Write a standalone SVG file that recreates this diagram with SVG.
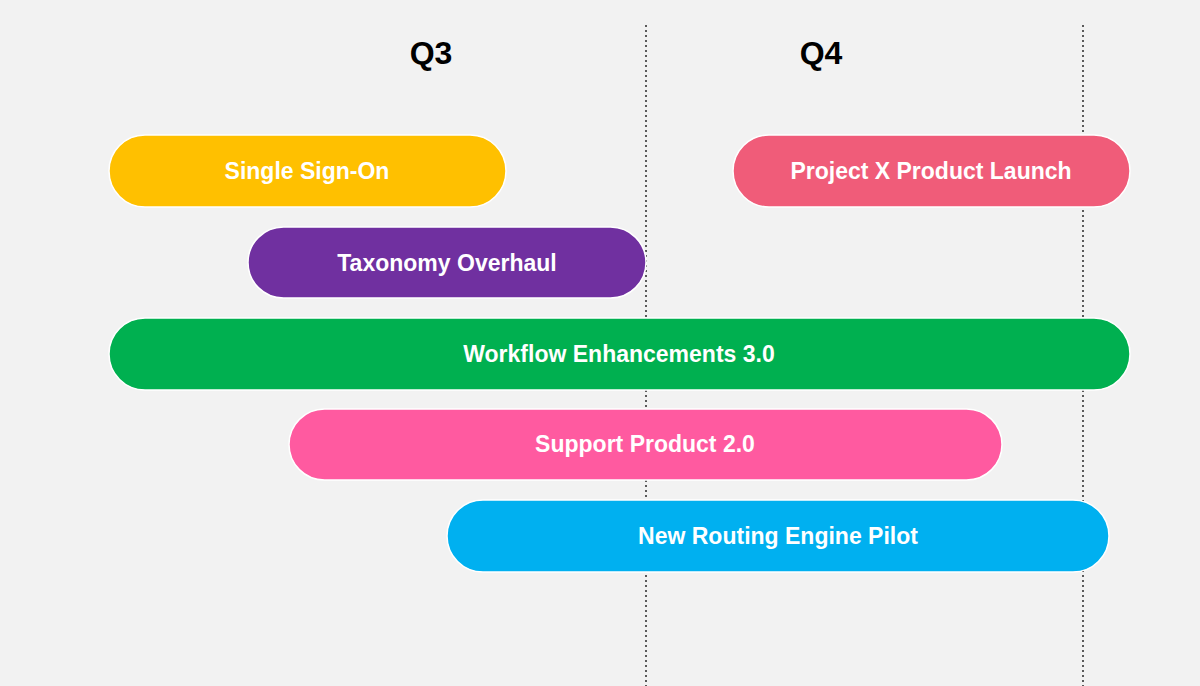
<svg xmlns="http://www.w3.org/2000/svg" width="1200" height="686" viewBox="0 0 1200 686">
<style>
.pill{stroke:#ffffff;stroke-width:1.5}
.lbl{font-family:"Liberation Sans",Arial,sans-serif;font-weight:bold;font-size:23px;fill:#ffffff;text-anchor:middle;dominant-baseline:central}
.q{font-family:"Liberation Sans",Arial,sans-serif;font-weight:bold;font-size:32px;fill:#000000;text-anchor:middle}
.div{stroke:#5a5a5a;stroke-width:2;stroke-dasharray:2 3;fill:none}
</style>
<rect width="1200" height="686" fill="#f2f2f2"/>
<g id="dividers">
<line class="div" x1="646" y1="25" x2="646" y2="686"/>
<line class="div" x1="1083" y1="25" x2="1083" y2="686"/>
</g>
<text class="q" x="431" y="64">Q3</text>
<text class="q" x="821" y="64">Q4</text>
<g id="sso"><rect class="pill" x="109" y="135" width="397" height="72" rx="36" fill="#ffc000"/><text class="lbl" x="307" y="171">Single Sign-On</text></g>
<g id="projectx"><rect class="pill" x="733" y="135" width="397" height="72" rx="36" fill="#f05c79"/><text class="lbl" x="931" y="171">Project X Product Launch</text></g>
<g id="taxonomy"><rect class="pill" x="248" y="227" width="398" height="71" rx="35.5" fill="#7030a0"/><text class="lbl" x="447" y="263">Taxonomy Overhaul</text></g>
<g id="workflow"><rect class="pill" x="109" y="318" width="1021" height="72" rx="36" fill="#00b050"/><text class="lbl" x="619" y="354">Workflow Enhancements 3.0</text></g>
<g id="support"><rect class="pill" x="289" y="409" width="713" height="71" rx="35.5" fill="#ff5aa0"/><text class="lbl" x="645" y="444">Support Product 2.0</text></g>
<g id="routing"><rect class="pill" x="447" y="500" width="662" height="72" rx="36" fill="#00b0f0"/><text class="lbl" x="778" y="536">New Routing Engine Pilot</text></g>
</svg>
